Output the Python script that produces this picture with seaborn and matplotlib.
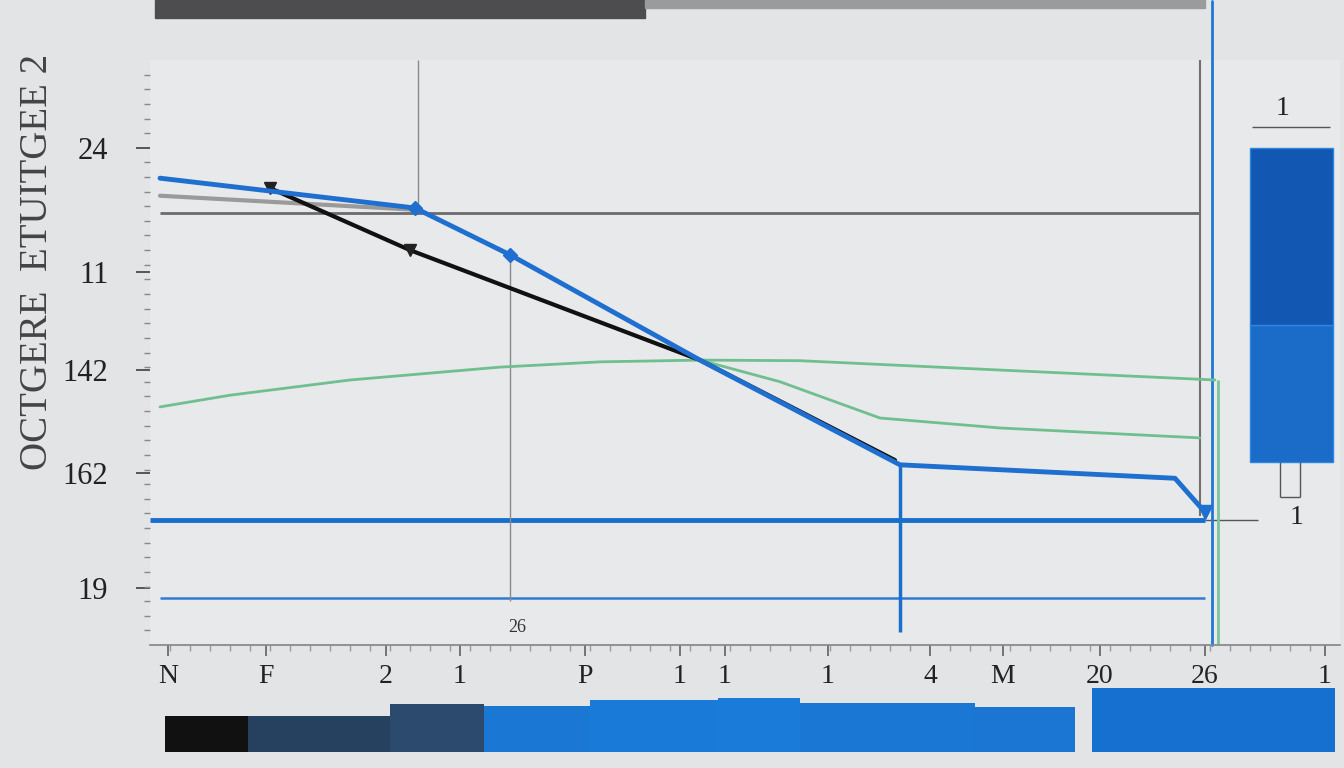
import matplotlib
matplotlib.use('Agg')
import matplotlib.pyplot as plt
import seaborn as sns
import pandas as pd

# main blue series
blue_x = [0.1, 2.65, 3.6, 5.5, 7.5, 10.25, 10.55]
blue_y = [79.8, 74.7, 66.7, 48.7, 30.8, 28.5, 22.7]
# black series
black_x = [1.2, 2.6, 5.5, 7.45]
black_y = [78.1, 67.5, 48.7, 31.6]
# short gray series
gray_x = [0.1, 2.65]
gray_y = [76.8, 74.4]
# green curves
green1_x = [0.1, 0.8, 2.0, 3.5, 4.5, 5.5, 6.5, 8.5, 10.65]
green1_y = [40.7, 42.7, 45.3, 47.5, 48.4, 48.7, 48.6, 47.0, 45.3]
green2_x = [5.5, 6.3, 7.3, 8.5, 10.5]
green2_y = [48.7, 45.0, 38.8, 37.1, 35.4]

# reference levels
gray_level = 73.8
blue_level = 21.4
thin_blue_level = 8.0

ytick_pos = [85.0, 63.8, 47.0, 29.4, 9.7]
ytick_lab = ['24', '11', '142', '162', '19']
xtick_pos = [0.18, 1.16, 2.36, 3.1, 4.35, 5.3, 5.75, 6.78, 7.8, 8.53, 9.5, 10.55, 11.75]
xtick_lab = ['N', 'F', '2', '1', 'P', '1', '1', '1', '4', 'M', '20', '26', '1']

# bottom strip segments (left edge, width, height)
strip_left = [0.15, 0.98, 2.4, 3.34, 4.4, 5.68, 6.5, 8.25, 9.42]
strip_width = [0.83, 1.42, 0.94, 1.06, 1.28, 0.82, 1.75, 1.0, 2.43]
strip_height = [36, 36, 48, 46, 52, 54, 49, 45, 64]
strip_colors = ['#111111', '#26405f', '#2b4a6e', '#1a78d4', '#1a7ad8',
                '#1b7bd9', '#1a78d4', '#1a76d2', '#1670cf']

# right bar stack
rbar_bottom = [31.3, 54.7]
rbar_height = [23.4, 30.3]
rbar_colors = ['#1a6cc8', '#1258b2']

sns.set_theme(style='white')
plt.rcParams['font.family'] = ['Liberation Serif', 'DejaVu Serif']

fig = plt.figure(figsize=(13.44, 7.68), dpi=100)
fig.patch.set_facecolor('#e3e4e6')

# top dark band
fig.patches.append(plt.Rectangle((155 / 1344, 1 - 18 / 768), 490 / 1344, 18 / 768,
                                 transform=fig.transFigure, color='#4d4d4f', zorder=0))
fig.patches.append(plt.Rectangle((645 / 1344, 1 - 8 / 768), 560 / 1344, 8 / 768,
                                 transform=fig.transFigure, color='#9a9b9d', zorder=0))

ax = fig.add_axes([150 / 1344, 1 - 645 / 768, 1190 / 1344, 585 / 768])
ax.set_facecolor('#e8e9eb')
ax.set_xlim(0, 11.9)
ax.set_ylim(0, 100)

# reference lines
ax.hlines(gray_level, 0.1, 10.5, color='#6b6b6b', lw=2)
ax.hlines(blue_level, 0.0, 10.55, color='#1a6fcc', lw=3.5)
ax.hlines(blue_level, 10.55, 11.08, color='#555555', lw=1)
ax.hlines(thin_blue_level, 0.1, 10.55, color='#2f7bd6', lw=1.8)
ax.vlines(2.68, 74.4, 100, color='#8a8a8a', lw=1)
ax.vlines(3.6, 7.5, 66.7, color='#8a8a8a', lw=1)
ax.vlines(7.5, 2.2, 30.8, color='#1a6fcc', lw=2.5)
ax.vlines(10.5, 22.0, 100, color='#707070', lw=1.5)
ax.vlines(10.68, 0, 45.3, color='#7cc49a', lw=2)
ax.plot([10.62, 10.62], [0, 110], color='#1f78d6', lw=2, clip_on=False)

df = pd.DataFrame({'x': gray_x, 'y': gray_y})
sns.lineplot(data=df, x='x', y='y', color='#9a9a9a', lw=3, ax=ax)
df = pd.DataFrame({'x': green1_x, 'y': green1_y})
sns.lineplot(data=df, x='x', y='y', color='#6fbf8f', lw=2, ax=ax)
df = pd.DataFrame({'x': green2_x, 'y': green2_y})
sns.lineplot(data=df, x='x', y='y', color='#6fbf8f', lw=2, ax=ax)
df = pd.DataFrame({'x': black_x, 'y': black_y})
sns.lineplot(data=df, x='x', y='y', color='#111111', lw=3, ax=ax)
ax.plot(black_x[:2], black_y[:2], 'v', color='#222222', ms=9)
df = pd.DataFrame({'x': blue_x, 'y': blue_y})
sns.lineplot(data=df, x='x', y='y', color='#1f6fd0', lw=3.5, ax=ax)
ax.plot(blue_x[1:3], blue_y[1:3], 'D', color='#1f6fd0', ms=7)
ax.plot(blue_x[-1:], blue_y[-1:], 'v', color='#1f6fd0', ms=10)

# right stacked bar
ax.bar([11.42, 11.42], rbar_height, bottom=rbar_bottom, width=0.83,
       color=rbar_colors, edgecolor='#2a86e0', lw=1)
ax.hlines(88.5, 11.02, 11.8, color='#555555', lw=1)
ax.text(11.33, 89.5, '1', fontsize=20, ha='center', va='bottom', color='#222222')
ax.vlines([11.3, 11.5], 25.3, 31.3, color='#555555', lw=1)
ax.hlines(25.3, 11.3, 11.5, color='#555555', lw=1)
ax.text(11.47, 24, '1', fontsize=20, ha='center', va='top', color='#222222')
ax.text(3.67, 1.5, '26', fontsize=13, ha='center', va='bottom', color='#333333')

ax.set_yticks(ytick_pos)
ax.set_yticklabels(ytick_lab, fontsize=22, color='#222222')
ax.set_xticks(xtick_pos)
ax.set_xticklabels(xtick_lab, fontsize=20, color='#222222')
ax.set_yticks([i * 2.5 for i in range(1, 40)], minor=True)
ax.set_xticks([i * 0.2 for i in range(1, 59)], minor=True)
ax.tick_params(axis='y', which='major', length=10, pad=20, color='#444444', left=True)
ax.tick_params(axis='y', which='minor', length=4, color='#888888', left=True)
ax.tick_params(axis='x', which='major', length=8, pad=6, color='#666666', bottom=True)
ax.tick_params(axis='x', which='minor', length=4, color='#999999', bottom=True)
for s in ['top', 'right', 'left']:
    ax.spines[s].set_visible(False)
ax.spines['bottom'].set_color('#888888')
ax.set_xlabel('')
ax.set_ylabel('')

fig.text(38 / 1344, 1 - 262 / 768, 'OCTGERE  ETUITGEE 2', rotation=90, fontsize=28,
         ha='center', va='center', color='#444444')

# bottom colour strip
ax2 = fig.add_axes([150 / 1344, 1 - 760 / 768, 1190 / 1344, 80 / 768])
ax2.set_xlim(0, 11.9)
ax2.set_ylim(-8, 72)
ax2.bar(strip_left, strip_height, width=strip_width, align='edge',
        color=strip_colors, edgecolor='none', lw=0)
ax2.axis('off')

fig.savefig('out.png', dpi=100, facecolor=fig.get_facecolor())
